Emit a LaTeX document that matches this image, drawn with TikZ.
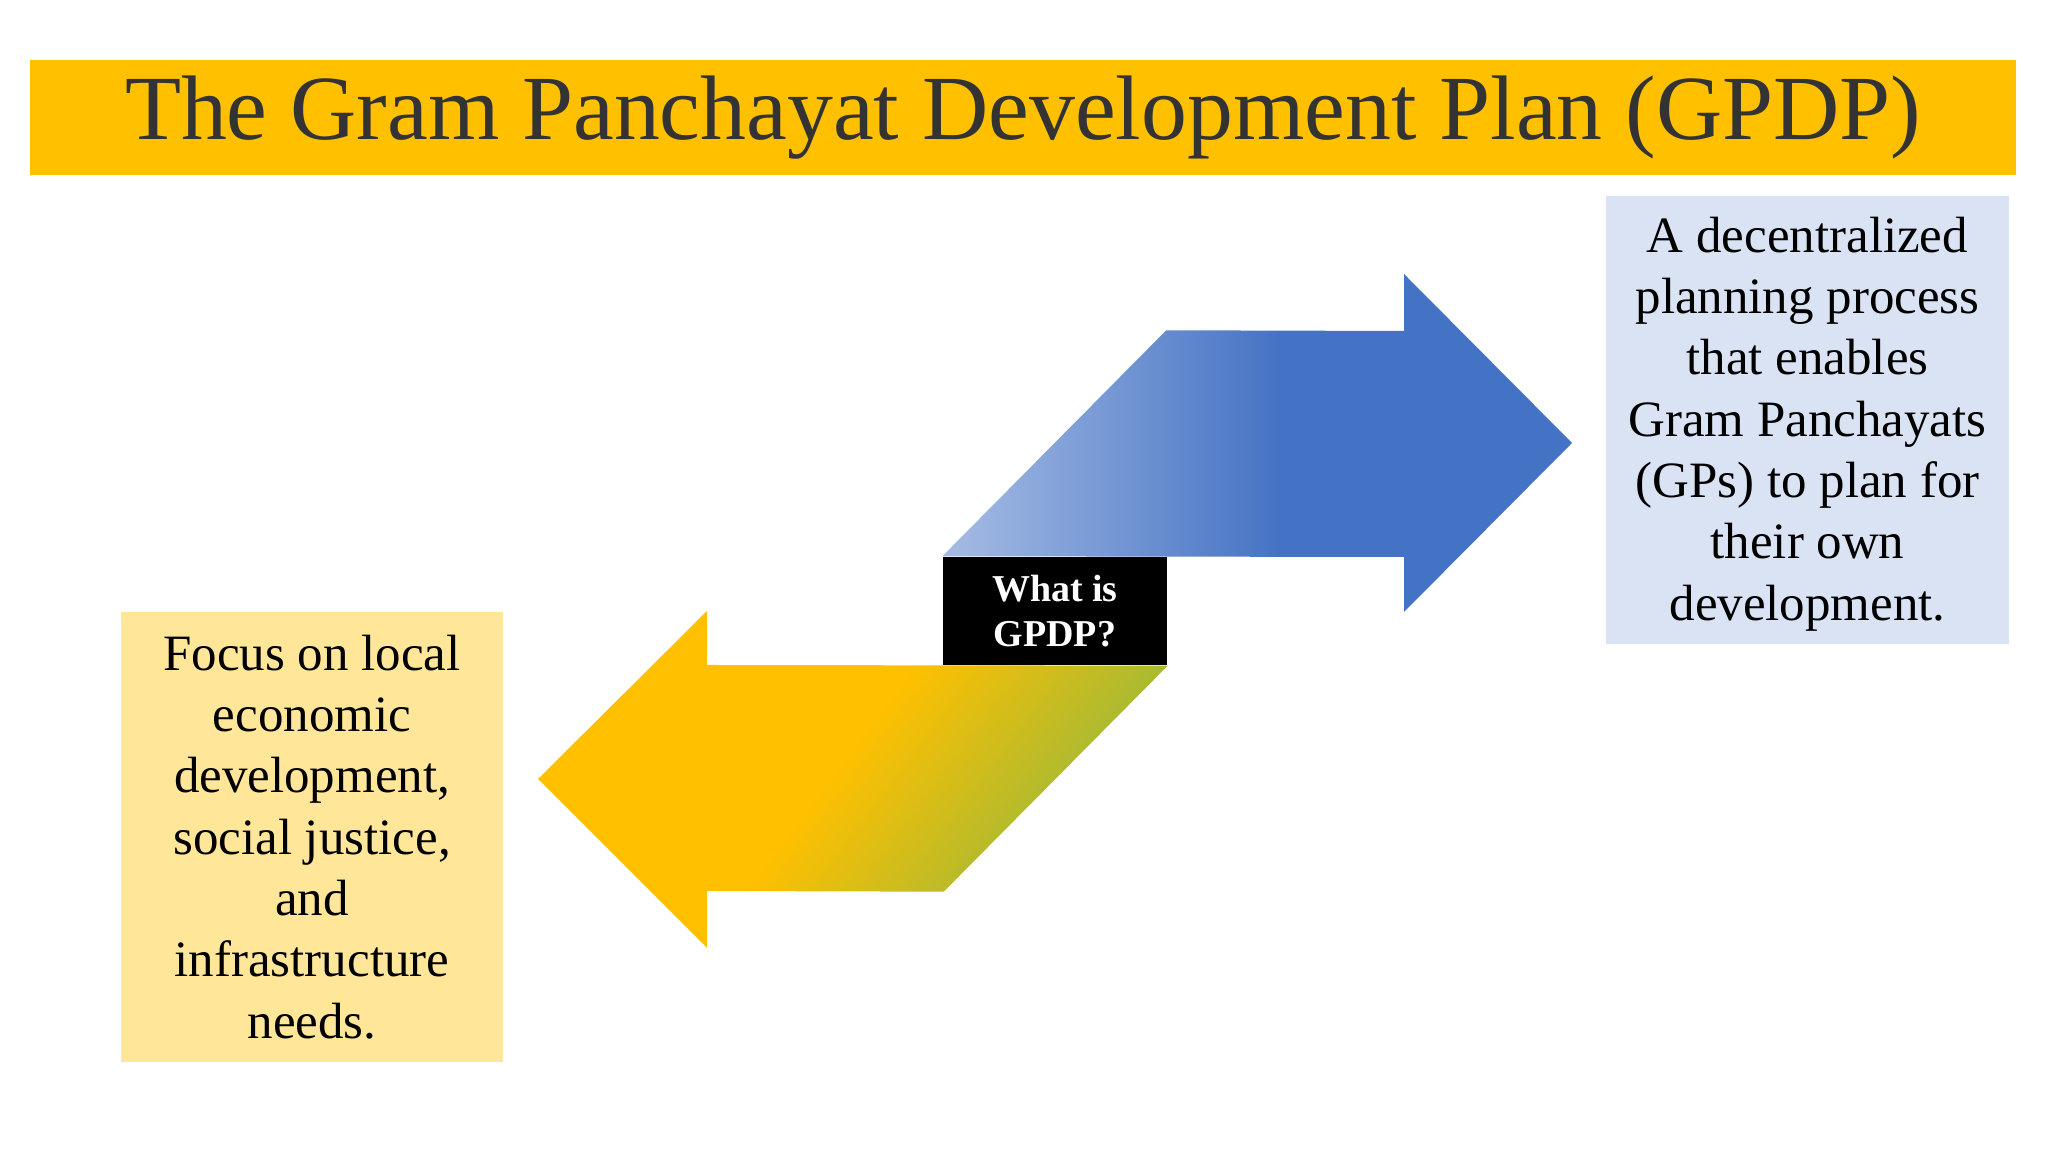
\documentclass[tikz,border=0pt]{standalone}
\usepackage{fontspec}
\setmainfont{Liberation Serif}
\definecolor{gold}{HTML}{FFC000}
\definecolor{officeblue}{HTML}{4472C4}
\definecolor{paleblue}{HTML}{A6BCE4}
\definecolor{leafgreen}{HTML}{8DB843}
\definecolor{boxblue}{HTML}{DAE3F3}
\definecolor{boxgold}{HTML}{FFE699}
\definecolor{titlegray}{HTML}{333333}
\pgfdeclarehorizontalshading{blueflow}{100bp}{color(0bp)=(paleblue); color(25bp)=(paleblue); color(52bp)=(officeblue); color(100bp)=(officeblue)}
\pgfdeclarehorizontalshading{goldflow}{100bp}{color(0bp)=(gold); color(48bp)=(gold); color(75bp)=(leafgreen); color(100bp)=(leafgreen)}
\begin{document}
\begin{tikzpicture}
  \tikzstyle{textbox}=[inner sep=0pt,align=center,font=\fontsize{14.5}{17.45}\selectfont]
  \useasboundingbox (0,0) rectangle (20.48,11.52);

  \node[fill=gold,minimum width=19.86cm,minimum height=1.15cm,inner sep=0pt,
    text=titlegray,font=\fontsize{26.1}{31}\selectfont] (title) at (10.23,10.345)
    {The Gram Panchayat Development Plan (GPDP)};

  \node[fill=black,minimum width=2.24cm,minimum height=1.08cm,inner sep=0pt,
    align=center,text=white,font=\fontsize{10.8}{12.6}\selectfont\bfseries] (what) at (10.55,5.41)
    {What is\\GPDP?};

  \shade[shading=blueflow] (what.north west) -- ++(2.24,2.26) -- (14.04,8.21) -- (14.04,8.78)
    -- (15.72,7.09) -- (14.04,5.40) -- (14.04,5.95) -- cycle;

  \shade[shading=goldflow,shading angle=-37] (what.south east) -- ++(-2.24,-2.26) -- (7.07,2.61) -- (7.07,2.04)
    -- (5.38,3.73) -- (7.07,5.41) -- (7.07,4.87) -- cycle;

  \node[textbox,fill=boxblue,minimum width=4.03cm,minimum height=4.48cm] (plan) at (18.075,7.32) {};
  \node[textbox] (plantext) at (18.075,7.28)
    {A decentralized\\planning process\\that enables\\Gram Panchayats\\(GPs) to plan for\\their own\\development.};

  \node[textbox,fill=boxgold,minimum width=3.82cm,minimum height=4.50cm] (focus) at (3.12,3.15)
    {Focus on local\\economic\\development,\\social justice,\\and\\infrastructure\\needs.};

\end{tikzpicture}
\end{document}
